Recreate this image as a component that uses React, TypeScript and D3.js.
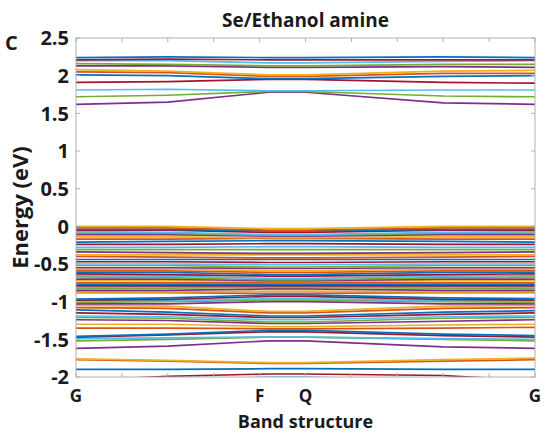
import * as d3 from 'd3';
import React from 'react';

// k-path sample positions (fraction of path length)
const kPos = [0, 0.2, 0.42, 0.5, 0.8, 1];
const kLabels = ['G', 'F', 'Q', 'G'];
const kLabelPos = [0, 0.4, 0.5, 1];
const yTicks = [-2, -1.5, -1, -0.5, 0, 0.5, 1, 1.5, 2, 2.5];

// MATLAB default color order
const colors = ['#0072BD', '#D95319', '#EDB120', '#7E2F8E', '#77AC30', '#4DBEEE', '#A2142F'];

// valence bands, ascending energy (eV) at kPos
const valence = [
  [-2.1, -2.05, -2.0, -2.0, -2.05, -2.1],
  [-2.05, -1.99, -1.96, -1.96, -1.98, -2.05],
  [-1.9, -1.9, -1.89, -1.89, -1.9, -1.9],
  [-1.77, -1.79, -1.82, -1.82, -1.79, -1.77],
  [-1.76, -1.78, -1.81, -1.81, -1.77, -1.75],
  [-1.62, -1.59, -1.52, -1.52, -1.6, -1.62],
  [-1.52, -1.5, -1.47, -1.47, -1.5, -1.52],
  [-1.49, -1.48, -1.47, -1.47, -1.49, -1.5],
  [-1.47, -1.44, -1.4, -1.4, -1.45, -1.47],
  [-1.46, -1.43, -1.38, -1.38, -1.43, -1.45],
  [-1.35, -1.35, -1.36, -1.36, -1.35, -1.34],
  [-1.3, -1.3, -1.33, -1.33, -1.31, -1.3],
  [-1.24, -1.25, -1.29, -1.29, -1.26, -1.24],
  [-1.21, -1.22, -1.27, -1.27, -1.22, -1.21],
  [-1.19, -1.2, -1.24, -1.24, -1.2, -1.19],
  [-1.15, -1.17, -1.21, -1.21, -1.17, -1.15],
  [-1.11, -1.14, -1.19, -1.19, -1.14, -1.12],
  [-1.08, -1.09, -1.15, -1.15, -1.09, -1.08],
  [-1.05, -1.06, -1.13, -1.13, -1.06, -1.05],
  [-1.03, -1.03, -1.0, -1.0, -1.03, -1.03],
  [-1.01, -1.0, -0.98, -0.98, -1.0, -1.01],
  [-0.99, -0.99, -0.96, -0.96, -0.99, -0.99],
  [-0.98, -0.97, -0.93, -0.93, -0.97, -0.98],
  [-0.965, -0.95, -0.91, -0.91, -0.95, -0.96],
  [-0.88, -0.88, -0.89, -0.89, -0.88, -0.88],
  [-0.87, -0.87, -0.86, -0.86, -0.87, -0.87],
  [-0.85, -0.85, -0.83, -0.83, -0.85, -0.85],
  [-0.83, -0.82, -0.81, -0.81, -0.82, -0.83],
  [-0.81, -0.8, -0.8, -0.8, -0.8, -0.81],
  [-0.79, -0.79, -0.79, -0.79, -0.79, -0.79],
  [-0.77, -0.77, -0.77, -0.77, -0.77, -0.77],
  [-0.75, -0.75, -0.75, -0.75, -0.75, -0.75],
  [-0.72, -0.72, -0.73, -0.73, -0.72, -0.72],
  [-0.7, -0.7, -0.72, -0.72, -0.7, -0.7],
  [-0.67, -0.68, -0.71, -0.71, -0.68, -0.67],
  [-0.65, -0.66, -0.69, -0.69, -0.66, -0.65],
  [-0.63, -0.64, -0.66, -0.66, -0.64, -0.63],
  [-0.61, -0.61, -0.64, -0.64, -0.61, -0.61],
  [-0.59, -0.59, -0.61, -0.61, -0.59, -0.59],
  [-0.57, -0.57, -0.59, -0.59, -0.57, -0.57],
  [-0.55, -0.55, -0.56, -0.56, -0.55, -0.55],
  [-0.52, -0.52, -0.54, -0.54, -0.52, -0.52],
  [-0.5, -0.5, -0.51, -0.51, -0.5, -0.5],
  [-0.47, -0.47, -0.48, -0.48, -0.47, -0.47],
  [-0.44, -0.44, -0.44, -0.44, -0.44, -0.44],
  [-0.4, -0.41, -0.42, -0.42, -0.41, -0.4],
  [-0.38, -0.38, -0.38, -0.38, -0.38, -0.38],
  [-0.34, -0.35, -0.36, -0.36, -0.35, -0.34],
  [-0.31, -0.31, -0.31, -0.31, -0.31, -0.31],
  [-0.28, -0.28, -0.27, -0.27, -0.28, -0.28],
  [-0.24, -0.24, -0.23, -0.23, -0.24, -0.24],
  [-0.21, -0.2, -0.19, -0.19, -0.2, -0.21],
  [-0.17, -0.17, -0.16, -0.16, -0.17, -0.17],
  [-0.14, -0.14, -0.15, -0.15, -0.14, -0.14],
  [-0.11, -0.11, -0.13, -0.13, -0.11, -0.11],
  [-0.09, -0.09, -0.12, -0.12, -0.09, -0.09],
  [-0.07, -0.08, -0.11, -0.11, -0.08, -0.07],
  [-0.05, -0.05, -0.08, -0.08, -0.05, -0.05],
  [-0.04, -0.04, -0.06, -0.06, -0.04, -0.04],
  [-0.02, -0.02, -0.05, -0.05, -0.02, -0.02],
  [0.0, 0.0, -0.03, -0.03, 0.0, 0.0],
];

// conduction bands, ascending energy (eV) at kPos
const conduction = [
  [1.62, 1.65, 1.78, 1.78, 1.64, 1.62],
  [1.72, 1.74, 1.79, 1.79, 1.73, 1.72],
  [1.81, 1.82, 1.8, 1.8, 1.81, 1.81],
  [1.91, 1.92, 1.95, 1.95, 1.91, 1.9],
  [2.01, 2.0, 1.96, 1.96, 1.99, 2.0],
  [2.05, 2.04, 1.99, 1.99, 2.03, 2.03],
  [2.08, 2.06, 2.01, 2.01, 2.06, 2.07],
  [2.13, 2.13, 2.11, 2.11, 2.12, 2.11],
  [2.16, 2.15, 2.13, 2.13, 2.15, 2.15],
  [2.2, 2.2, 2.17, 2.17, 2.19, 2.2],
  [2.21, 2.22, 2.21, 2.21, 2.21, 2.21],
  [2.24, 2.25, 2.24, 2.24, 2.25, 2.24],
];

const bands = [...valence, ...conduction];
// lowest visible band is light blue in the color cycle
const colorOffset = 5;

export default function App() {
  const width = 550;
  const height = 439;
  const margin = { top: 38, right: 15, bottom: 62, left: 76 };
  const x = d3.scaleLinear().domain([0, 1]).range([margin.left, width - margin.right]);
  const y = d3.scaleLinear().domain([-2, 2.5]).range([height - margin.bottom, margin.top]);
  const line = d3.line<number>()
    .x((_, i) => x(kPos[i]))
    .y(d => y(d));

  const font = '"Open Sans", Lato, sans-serif';
  const ink = '#1a1a1a';
  const axisColor = '#b0b0b0';
  const xTicks = d3.range(0, 11).map(i => i / 10);
  const x0 = x(0), x1 = x(1), y0 = y(-2), y1 = y(2.5);

  return (
    <svg width={width} height={height} style={{ position: 'absolute', left: 0, top: 0, background: '#fff' }}>
      <defs>
        <clipPath id="plotClip">
          <rect x={x0} y={y1} width={x1 - x0} height={y0 - y1} />
        </clipPath>
      </defs>
      <g clipPath="url(#plotClip)">
        {bands.map((b, i) => (
          <path key={i} d={line(b) ?? ''} fill="none"
            stroke={colors[(i + colorOffset) % colors.length]} strokeWidth={1.7} />
        ))}
      </g>
      {/* frame */}
      <rect x={x0} y={y1} width={x1 - x0} height={y0 - y1} fill="none" stroke={axisColor} strokeWidth={1} />
      {xTicks.map(t => (
        <g key={t}>
          <line x1={x(t)} x2={x(t)} y1={y0} y2={y0 - 4} stroke={axisColor} />
          <line x1={x(t)} x2={x(t)} y1={y1} y2={y1 + 4} stroke={axisColor} />
        </g>
      ))}
      {yTicks.map(t => (
        <g key={t}>
          <line x1={x0} x2={x0 + 4} y1={y(t)} y2={y(t)} stroke={axisColor} />
          <line x1={x1} x2={x1 - 4} y1={y(t)} y2={y(t)} stroke={axisColor} />
          <text x={x0 - 7} y={y(t)} dy="0.36em" textAnchor="end" fontFamily={font}
            fontWeight="bold" fontSize={20} fill={ink}>{t}</text>
        </g>
      ))}
      {kLabels.map((l, i) => (
        <text key={i} x={x(kLabelPos[i])} y={y0 + 25} textAnchor="middle" fontFamily={font}
          fontWeight="bold" fontSize={17} fill={ink}>{l}</text>
      ))}
      <text x={(x0 + x1) / 2} y={y0 + 51} textAnchor="middle" fontFamily={font}
        fontWeight="bold" fontSize={18} fill={ink}>Band structure</text>
      <text transform={`translate(28,${(y0 + y1) / 2}) rotate(-90)`} textAnchor="middle" fontFamily={font}
        fontWeight="bold" fontSize={22} fill={ink}>Energy (eV)</text>
      <text x={(x0 + x1) / 2} y={27} textAnchor="middle" fontFamily={font}
        fontWeight="bold" fontSize={19} fill={ink}>Se/Ethanol amine</text>
      <text x={5} y={50} fontFamily={font} fontWeight="bold" fontSize={20} fill={ink}>C</text>
    </svg>
  );
}
